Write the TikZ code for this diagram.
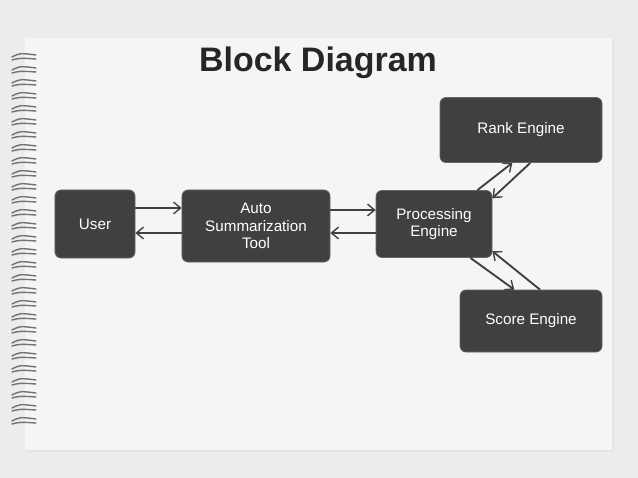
\documentclass[tikz,border=0pt]{standalone}
\usepackage{fontspec}
\setmainfont{Liberation Sans}
\usetikzlibrary{arrows.meta}
\begin{document}
\begin{tikzpicture}[x=0.03cm,y=-0.03cm,
 blk/.style={rounded corners=5pt,fill=black!75,draw=black!60,line width=0.6pt,text=white,align=center,font=\fontsize{13}{15}\selectfont,inner sep=0pt},
 arr/.style={draw=black!75,line width=1.6pt,-{Straight Barb[length=6pt,width=10pt,line width=1.2pt]}},
 ring/.style={draw=black!55,line width=1.2pt,line cap=round}]
\useasboundingbox (0,0) rectangle (638,478);
\fill[gray!15] (0,0) rectangle (638,478);
\fill[black!10] (27,40) rectangle (614,452);
\fill[white!92!gray] (25,38) rectangle (612,450);
\foreach \y in {57,70,...,430}{
  \draw[ring] (12,\y) .. controls (20,\y-4) .. (36,\y-2);
  \draw[ring] (12,\y+3) .. controls (20,\y+1) .. (36,\y+2);
}
\node[font=\fontsize{29}{32}\selectfont\bfseries,text=black!85] (title) at (318,63) {Block Diagram};
\node[blk,minimum width=2.4cm,minimum height=2.04cm] (U) at (95,224) {User};
\node[blk,minimum width=4.44cm,minimum height=2.16cm] (A) at (256,226) {Auto\\Summarization\\Tool};
\node[blk,minimum width=3.48cm,minimum height=2.01cm] (P) at (434,224) {Processing\\Engine};
\node[blk,minimum width=4.86cm,minimum height=1.95cm] (R) at (521,130) {Rank Engine};
\node[blk,minimum width=4.26cm,minimum height=1.86cm] (S) at (531,321) {Score Engine};
\draw[arr] (U.east|-0,208) -- (A.west|-0,208);
\draw[arr] (A.west|-0,233) -- (U.east|-0,233);
\draw[arr] (A.east|-0,210) -- (P.west|-0,210);
\draw[arr] (P.west|-0,233) -- (A.east|-0,233);
\draw[arr] ([xshift=-0.45cm]P.north east) -- ([xshift=-2.7cm]R.south east);
\draw[arr] ([xshift=-2.16cm]R.south east) -- ([yshift=-0.24cm]P.north east);
\draw[arr] ([xshift=-0.66cm]P.south east) -- ([xshift=-0.5cm]S.north);
\draw[arr] ([xshift=0.27cm]S.north) -- ([yshift=0.2cm]P.south east);
\end{tikzpicture}
\end{document}
